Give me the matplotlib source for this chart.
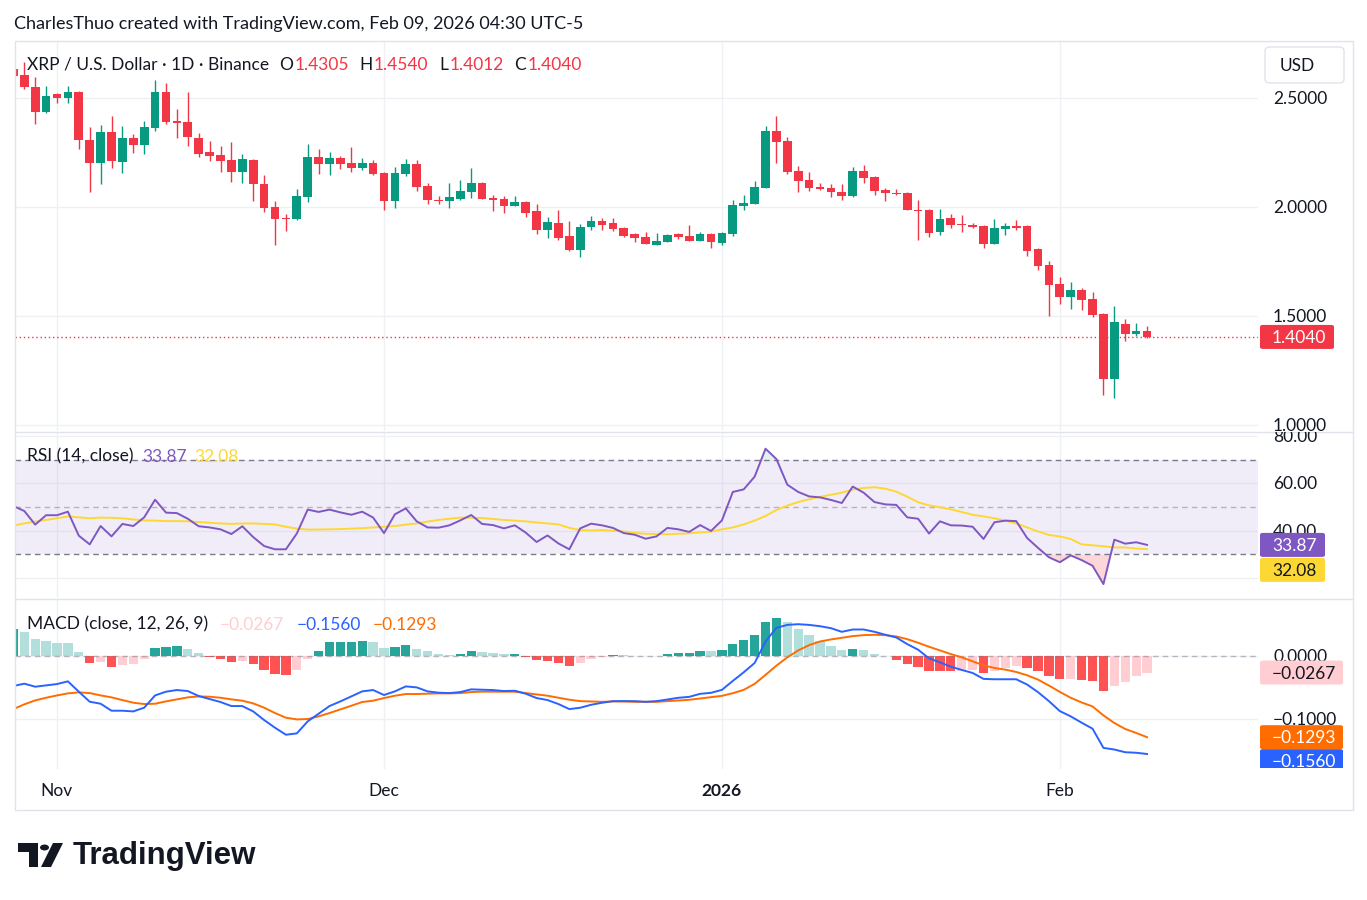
import matplotlib
matplotlib.use('Agg')
import matplotlib.pyplot as plt
import numpy as np
import pandas as pd
from matplotlib.patches import Rectangle, FancyBboxPatch, Polygon, Circle
from matplotlib.lines import Line2D

plt.rcParams['font.family'] = ['Lato', 'DejaVu Sans']

W, H = 1367, 900

# Velas diarias XRP/USD (Binance)
fechas = pd.date_range('2025-10-28', '2026-02-09', freq='D')
apertura = [2.631, 2.607, 2.550, 2.437, 2.517, 2.502, 2.528, 2.309, 2.203, 2.344,
            2.208, 2.317, 2.286, 2.362, 2.528, 2.394, 2.391, 2.317, 2.254, 2.240,
            2.217, 2.162, 2.217, 2.107, 2.002, 1.951, 1.947, 2.047, 2.231, 2.199,
            2.226, 2.203, 2.180, 2.203, 2.157, 2.029, 2.153, 2.199, 2.098, 2.034,
            2.029, 2.038, 2.070, 2.112, 2.043, 2.038, 2.006, 2.024, 1.983, 1.896,
            1.928, 1.868, 1.804, 1.910, 1.937, 1.928, 1.905, 1.878, 1.864, 1.827,
            1.841, 1.878, 1.868, 1.846, 1.878, 1.837, 1.878, 2.006, 2.015, 2.089,
            2.349, 2.303, 2.165, 2.124, 2.092, 2.087, 2.069, 2.052, 2.165, 2.138,
            2.078, 2.064, 2.064, 1.988, 1.988, 1.887, 1.951, 1.924, 1.919, 1.914,
            1.832, 1.901, 1.914, 1.914, 1.809, 1.735, 1.648, 1.589, 1.621, 1.580,
            1.511, 1.213, 1.465, 1.419, 1.4305]
maximo = [2.645, 2.665, 2.596, 2.555, 2.524, 2.555, 2.532, 2.365, 2.375, 2.416,
          2.370, 2.335, 2.394, 2.583, 2.569, 2.450, 2.528, 2.339, 2.303, 2.280,
          2.298, 2.245, 2.222, 2.148, 2.029, 1.969, 2.084, 2.289, 2.268, 2.252,
          2.235, 2.277, 2.226, 2.217, 2.162, 2.185, 2.222, 2.217, 2.112, 2.052,
          2.112, 2.125, 2.180, 2.115, 2.057, 2.052, 2.052, 2.029, 2.015, 1.956,
          1.988, 1.937, 1.924, 1.960, 1.951, 1.951, 1.910, 1.882, 1.887, 1.882,
          1.878, 1.882, 1.919, 1.887, 1.882, 1.884, 2.034, 2.055, 2.119, 2.372,
          2.417, 2.321, 2.188, 2.161, 2.110, 2.106, 2.106, 2.183, 2.193, 2.142,
          2.087, 2.083, 2.069, 2.032, 1.992, 1.992, 1.969, 1.965, 1.928, 1.919,
          1.947, 1.928, 1.942, 1.916, 1.813, 1.754, 1.680, 1.658, 1.630, 1.612,
          1.515, 1.547, 1.488, 1.469, 1.4540]
minimo = [2.595, 2.541, 2.382, 2.430, 2.479, 2.479, 2.268, 2.070, 2.107, 2.180,
          2.157, 2.249, 2.245, 2.350, 2.379, 2.318, 2.280, 2.231, 2.213, 2.162,
          2.116, 2.112, 2.029, 1.979, 1.827, 1.891, 1.940, 2.024, 2.153, 2.148,
          2.176, 2.162, 2.170, 2.148, 1.988, 1.997, 2.144, 2.075, 2.015, 2.015,
          1.997, 2.034, 2.043, 2.035, 1.983, 1.974, 2.003, 1.956, 1.878, 1.859,
          1.850, 1.800, 1.772, 1.896, 1.896, 1.891, 1.864, 1.841, 1.829, 1.825,
          1.838, 1.855, 1.843, 1.843, 1.813, 1.827, 1.869, 1.988, 2.012, 2.086,
          2.203, 2.153, 2.070, 2.075, 2.078, 2.047, 2.034, 2.047, 2.112, 2.057,
          2.029, 2.055, 1.985, 1.850, 1.864, 1.873, 1.905, 1.887, 1.905, 1.813,
          1.829, 1.873, 1.896, 1.777, 1.713, 1.502, 1.557, 1.534, 1.529, 1.497,
          1.139, 1.125, 1.387, 1.410, 1.4012]
cierre = [2.602, 2.550, 2.437, 2.509, 2.502, 2.528, 2.309, 2.203, 2.344, 2.213,
          2.317, 2.286, 2.367, 2.528, 2.391, 2.387, 2.321, 2.245, 2.235, 2.213,
          2.162, 2.222, 2.107, 1.997, 1.947, 1.945, 2.052, 2.231, 2.199, 2.226,
          2.199, 2.180, 2.203, 2.153, 2.029, 2.157, 2.199, 2.093, 2.034, 2.026,
          2.047, 2.075, 2.112, 2.038, 2.034, 2.006, 2.024, 1.974, 1.896, 1.933,
          1.859, 1.804, 1.910, 1.937, 1.919, 1.901, 1.868, 1.859, 1.832, 1.846,
          1.873, 1.864, 1.846, 1.878, 1.841, 1.882, 2.011, 2.018, 2.092, 2.349,
          2.300, 2.162, 2.121, 2.089, 2.083, 2.070, 2.052, 2.165, 2.135, 2.075,
          2.066, 2.060, 1.988, 1.983, 1.882, 1.947, 1.919, 1.919, 1.910, 1.832,
          1.905, 1.914, 1.905, 1.800, 1.731, 1.644, 1.589, 1.621, 1.575, 1.506,
          1.213, 1.474, 1.419, 1.433, 1.4040]

# RSI (14) y su media
rsi = [50.4, 48.3, 42.5, 46.5, 46.5, 48.0, 37.8, 34.1, 41.9, 37.5,
       42.8, 41.9, 45.6, 53.1, 47.6, 47.4, 45.0, 41.8, 41.3, 40.5,
       38.5, 41.8, 37.2, 33.4, 32.0, 32.0, 38.7, 48.9, 47.9, 48.9,
       47.7, 46.7, 48.0, 45.5, 38.9, 46.9, 49.4, 43.9, 41.3, 41.2,
       42.2, 44.3, 46.6, 42.8, 42.3, 40.9, 42.2, 39.1, 35.1, 37.9,
       34.5, 32.0, 40.9, 42.9, 42.2, 41.1, 38.9, 38.2, 36.5, 37.5,
       41.1, 40.5, 39.4, 42.3, 39.8, 44.3, 56.4, 57.5, 62.9, 74.8,
       70.4, 59.5, 56.4, 54.5, 54.1, 53.0, 51.7, 58.7, 56.1, 52.1,
       51.1, 50.9, 45.6, 45.0, 38.7, 43.9, 42.2, 42.1, 41.6, 36.4,
       43.5, 44.2, 44.0, 36.8, 32.6, 28.6, 26.5, 29.4, 27.4, 25.0,
       17.2, 36.1, 34.4, 35.0, 33.87]
rsi_media = [42.1, 43.0, 43.8, 44.5, 45.2, 46.0, 45.6, 45.2, 45.5, 45.4,
             45.2, 44.7, 44.3, 44.2, 44.0, 44.0, 43.9, 43.6, 43.3, 43.0,
             42.8, 43.0, 43.0, 42.8, 42.6, 41.6, 40.8, 40.4, 40.4, 40.5,
             40.6, 40.8, 41.0, 41.3, 41.6, 41.9, 42.5, 43.0, 43.8, 44.5,
             45.0, 45.5, 45.4, 45.3, 44.9, 44.5, 44.2, 43.9, 43.4, 43.0,
             42.6, 41.1, 40.2, 40.0, 40.2, 39.9, 39.6, 39.0, 38.6, 38.5,
             38.4, 38.6, 38.8, 39.2, 39.5, 40.5, 41.3, 42.6, 44.2, 46.2,
             48.7, 50.6, 52.1, 53.3, 54.3, 55.2, 56.1, 57.4, 58.1, 58.4,
             57.8, 56.5, 54.4, 52.0, 50.7, 49.9, 49.0, 47.9, 46.7, 46.0,
             45.2, 44.2, 43.0, 41.3, 39.6, 38.1, 37.5, 36.4, 34.1, 33.7,
             33.3, 32.8, 32.8, 32.3, 32.08]

# MACD (12, 26, 9)
macd = [-0.0481, -0.0444, -0.0492, -0.0471, -0.0450, -0.0407, -0.0571, -0.0730, -0.0762, -0.0873,
        -0.0873, -0.0884, -0.0825, -0.0630, -0.0571, -0.0545, -0.0561, -0.0640, -0.0688, -0.0735,
        -0.0799, -0.0799, -0.0884, -0.1021, -0.1143, -0.1254, -0.1233, -0.1042, -0.0921, -0.0799,
        -0.0725, -0.0646, -0.0566, -0.0545, -0.0624, -0.0566, -0.0487, -0.0503, -0.0566, -0.0587,
        -0.0593, -0.0577, -0.0534, -0.0540, -0.0545, -0.0561, -0.0556, -0.0603, -0.0672, -0.0704,
        -0.0767, -0.0847, -0.0826, -0.0779, -0.0747, -0.0721, -0.0721, -0.0721, -0.0732, -0.0721,
        -0.0695, -0.0668, -0.0653, -0.0605, -0.0589, -0.0542, -0.0400, -0.0263, -0.0116, 0.0226,
        0.0442, 0.0489, 0.0500, 0.0489, 0.0468, 0.0437, 0.0379, 0.0416, 0.0416, 0.0379,
        0.0332, 0.0289, 0.0184, 0.0095, -0.0042, -0.0105, -0.0174, -0.0226, -0.0274, -0.0368,
        -0.0374, -0.0374, -0.0374, -0.0458, -0.0579, -0.0721, -0.0879, -0.0963, -0.1063, -0.1158,
        -0.1463, -0.1489, -0.1532, -0.1540, -0.1560]
senal = [-0.0847, -0.0772, -0.0709, -0.0667, -0.0630, -0.0598, -0.0582, -0.0593, -0.0630, -0.0661,
         -0.0704, -0.0746, -0.0767, -0.0762, -0.0725, -0.0693, -0.0661, -0.0646, -0.0651, -0.0667,
         -0.0693, -0.0714, -0.0757, -0.0825, -0.0910, -0.0984, -0.1011, -0.1005, -0.0963, -0.0910,
         -0.0852, -0.0794, -0.0735, -0.0714, -0.0672, -0.0635, -0.0608, -0.0608, -0.0603, -0.0598,
         -0.0598, -0.0593, -0.0577, -0.0571, -0.0571, -0.0571, -0.0571, -0.0593, -0.0614, -0.0635,
         -0.0667, -0.0698, -0.0721, -0.0726, -0.0732, -0.0726, -0.0726, -0.0732, -0.0732, -0.0732,
         -0.0721, -0.0711, -0.0700, -0.0679, -0.0658, -0.0637, -0.0595, -0.0542, -0.0447, -0.0305,
         -0.0158, -0.0026, 0.0084, 0.0168, 0.0226, 0.0258, 0.0284, 0.0311, 0.0326, 0.0332,
         0.0326, 0.0305, 0.0263, 0.0205, 0.0142, 0.0084, 0.0026, -0.0026, -0.0089, -0.0153,
         -0.0195, -0.0221, -0.0258, -0.0311, -0.0379, -0.0474, -0.0574, -0.0668, -0.0742, -0.0805,
         -0.0947, -0.1068, -0.1163, -0.1226, -0.1293]
histograma = [0.0423, 0.0370, 0.0265, 0.0233, 0.0201, 0.0195, 0.0058, -0.0115, -0.0105, -0.0180,
              -0.0143, -0.0127, -0.0053, 0.0122, 0.0138, 0.0153, 0.0106, 0.0042, -0.0021, -0.0053,
              -0.0101, -0.0085, -0.0132, -0.0228, -0.0286, -0.0307, -0.0228, -0.0053, 0.0074, 0.0210,
              0.0217, 0.0225, 0.0233, 0.0217, 0.0122, 0.0138, 0.0169, 0.0106, 0.0074, 0.0026,
              0.0016, 0.0032, 0.0074, 0.0058, 0.0042, 0.0024, 0.0030, -0.0021, -0.0069, -0.0085,
              -0.0116, -0.0164, -0.0121, -0.0058, -0.0026, 0.0016, 0.0006, 0.0001, -0.0012, -0.0008,
              0.0032, 0.0045, 0.0047, 0.0082, 0.0078, 0.0095, 0.0189, 0.0253, 0.0332, 0.0537,
              0.0600, 0.0537, 0.0426, 0.0332, 0.0237, 0.0158, 0.0095, 0.0111, 0.0095, 0.0032,
              -0.0011, -0.0063, -0.0126, -0.0174, -0.0238, -0.0242, -0.0246, -0.0237, -0.0232, -0.0268,
              -0.0237, -0.0189, -0.0158, -0.0189, -0.0237, -0.0316, -0.0372, -0.0368, -0.0380, -0.0395,
              -0.0568, -0.0474, -0.0411, -0.0330, -0.0267]

etiquetas_mes = ['Nov', 'Dec', '2026', 'Feb']
ticks_precio = [1.0, 1.5, 2.0, 2.5]
ticks_rsi = [20, 40, 60, 80]
etiquetas_rsi = [40, 60, 80]   # el 20 queda tapado por la caja amarilla
ticks_macd = [-0.1, 0.0]

VERDE = '#089981'
ROJO = '#F23645'
TEXTO = '#131722'
GRID = '#EEF0F4'
BORDE = '#E0E3EB'


def fx(x):
    return x / W


def fy(y):
    return 1 - y / H


def signo(s):
    return s.replace('-', '\u2212')


fig = plt.figure(figsize=(W / 100, H / 100), dpi=100)
fig.patch.set_facecolor('white')
renderer = fig.canvas.get_renderer()

x = np.arange(len(fechas))
idx_mes = [i for i, f in enumerate(fechas) if f.day == 1]
XL = (0.147, 114.18)


def panel(top, bottom):
    ax = fig.add_axes([fx(15), fy(bottom), fx(1258 - 15), (bottom - top) / H])
    for s in ax.spines.values():
        s.set_visible(False)
    ax.set_xlim(*XL)
    ax.set_xticks(idx_mes)
    ax.tick_params(length=0, labelleft=False, labelbottom=False)
    ax.grid(True, color=GRID, lw=1)
    ax.set_axisbelow(True)
    return ax


ax_p = panel(41, 431)
ax_r = panel(432, 598)
ax_m = panel(600, 769)

# --- precio ---
o = np.array(apertura)
h = np.array(maximo)
l = np.array(minimo)
c = np.array(cierre)
col = np.where(c >= o, VERDE, ROJO)
ax_p.vlines(x, l, h, colors=col, lw=1.0, zorder=2)
ax_p.bar(x, np.maximum(np.abs(c - o), 0.004), bottom=np.minimum(o, c), width=0.8,
         color=col, lw=0, zorder=3)
ax_p.set_ylim(0.9725, 2.7615)
ax_p.set_yticks(ticks_precio)
ax_p.axhline(c[-1], color=ROJO, ls=(0, (1, 2)), lw=1, zorder=1)

# --- RSI ---
r = np.array(rsi)
rm = np.array(rsi_media)
ax_r.set_ylim(11.28, 81.91)
ax_r.set_yticks(ticks_rsi)
ax_r.axhspan(30, 70, color='#7E57C2', alpha=0.1, lw=0)
ax_r.axhline(70, color='#787B86', ls=(0, (4, 3)), lw=1)
ax_r.axhline(30, color='#787B86', ls=(0, (4, 3)), lw=1)
ax_r.axhline(50, color='#787B86', alpha=0.5, ls=(0, (4, 3)), lw=1)
ax_r.fill_between(x, r, 30, where=r < 30, interpolate=True, color='#F23645', alpha=0.2, lw=0)
ax_r.fill_between(x, r, 70, where=r > 70, interpolate=True, color='#089981', alpha=0.12, lw=0)
ax_r.plot(x, rm, color='#FDD835', lw=1.4)
ax_r.plot(x, r, color='#7E57C2', lw=1.4)

# --- MACD ---
hi = np.array(histograma)
prev = np.r_[-np.inf, hi[:-1]]
col_h = []
for v, p in zip(hi, prev):
    if v >= 0:
        col_h.append('#26A69A' if p < v else '#B2DFDB')
    else:
        col_h.append('#FFCDD2' if p < v else '#FF5252')
ax_m.set_ylim(-0.1798, 0.0884)
ax_m.set_yticks(ticks_macd)
ax_m.bar(x, hi, width=0.85, color=col_h, lw=0, zorder=2)
ax_m.axhline(0, color='#787B86', alpha=0.5, ls=(0, (4, 3)), lw=1, zorder=2)
ax_m.plot(x, senal, color='#FF6D00', lw=1.4, zorder=3)
ax_m.plot(x, macd, color='#2962FF', lw=1.4, zorder=3)
ax_m.set_xticks(idx_mes, labels=etiquetas_mes)
ax_m.tick_params(axis='x', labelbottom=True, pad=10, labelsize=12.5, labelcolor=TEXTO)
for lbl in ax_m.get_xticklabels():
    if lbl.get_text() == '2026':
        lbl.set_fontweight('bold')

# --- marco y separadores ---
fig.add_artist(Rectangle((fx(14.5), fy(809.5)), fx(1352.5 - 14.5), (809.5 - 40.5) / H,
                         transform=fig.transFigure, fill=False, ec=BORDE, lw=1))
for yy in (431.5, 599):
    fig.add_artist(Line2D([fx(15), fx(1352)], [fy(yy), fy(yy)], transform=fig.transFigure,
                          color=BORDE, lw=1))


def recorte(top, bottom):
    return Rectangle((fx(15), fy(bottom)), fx(1352 - 15), (bottom - top) / H,
                     transform=fig.transFigure)


clip_p = recorte(41, 431)
clip_r = recorte(432, 598)
clip_m = recorte(600, 768)


def ypix(ax, v):
    return H - ax.transData.transform((0, v))[1]


def etiqueta(ax, v, texto, clip):
    t = fig.text(fx(1273), fy(ypix(ax, v) + 1), texto, color=TEXTO, fontsize=12.5,
                 va='center', zorder=3)
    t.set_clip_path(clip)


for v in ticks_precio:
    etiqueta(ax_p, v, f'{v:.4f}', clip_p)
for v in etiquetas_rsi:
    etiqueta(ax_r, v, f'{v:.2f}', clip_r)
for v in ticks_macd:
    etiqueta(ax_m, v, signo(f'{v:.4f}'), clip_m)


def caja(x1, yc, texto, fc, tc, clip, hgt=24):
    p = FancyBboxPatch((fx(1260), fy(yc + hgt / 2)), fx(x1 - 1260), hgt / H,
                       boxstyle='round,pad=0,rounding_size=0.002', transform=fig.transFigure,
                       fc=fc, ec='none', zorder=4)
    fig.add_artist(p)
    p.set_clip_path(clip)
    t = fig.text(fx(1272), fy(yc + 1), texto, color=tc, fontsize=12.5, va='center', zorder=5)
    t.set_clip_path(clip)


caja(1334, ypix(ax_p, c[-1]), f'{c[-1]:.4f}', ROJO, 'white', clip_p)
y_rsi = ypix(ax_r, r[-1])
caja(1325, y_rsi, f'{r[-1]:.2f}', '#7E57C2', 'white', clip_r)
caja(1325, y_rsi + 25, f'{rm[-1]:.2f}', '#FDD835', TEXTO, clip_r)
caja(1343, ypix(ax_m, hi[-1]), signo(f'{hi[-1]:.4f}'), '#FFCDD2', TEXTO, clip_m)
y_sen = ypix(ax_m, senal[-1])
caja(1343, y_sen, signo(f'{senal[-1]:.4f}'), '#FF6D00', 'white', clip_m)
caja(1343, y_sen + 24, signo(f'{macd[-1]:.4f}'), '#2962FF', 'white', clip_m)

# caja USD
fig.add_artist(FancyBboxPatch((fx(1265), fy(83)), fx(1344 - 1265), 36 / H,
                              boxstyle='round,pad=0,rounding_size=0.004', transform=fig.transFigure,
                              fc='white', ec=BORDE, lw=1, zorder=4))
fig.text(fx(1280), fy(66), 'USD', color=TEXTO, fontsize=12.5, va='center', zorder=5)


# --- leyendas ---
def leyenda(x0, y, partes, size=12.5):
    xx = x0
    for s, color, gap in partes:
        t = fig.text(fx(xx), fy(y + 1.5), s, color=color, fontsize=size, va='center', zorder=6)
        bb = t.get_window_extent(renderer=renderer)
        xx = bb.x1 + gap


leyenda(27, 63, [('XRP / U.S. Dollar · 1D · Binance', TEXTO, 10),
                 ('O', TEXTO, 1), (f'{o[-1]:.4f}', ROJO, 11),
                 ('H', TEXTO, 1), (f'{h[-1]:.4f}', ROJO, 11),
                 ('L', TEXTO, 1), (f'{l[-1]:.4f}', ROJO, 11),
                 ('C', TEXTO, 1), (f'{c[-1]:.4f}', ROJO, 0)])
leyenda(27, 455, [('RSI (14, close)', TEXTO, 9),
                  (f'{r[-1]:.2f}', '#7E57C2', 7),
                  (f'{rm[-1]:.2f}', '#FDD835', 0)])
leyenda(27, 623, [('MACD (close, 12, 26, 9)', TEXTO, 12),
                  (signo(f'{hi[-1]:.4f}'), '#FFCDD2', 12),
                  (signo(f'{macd[-1]:.4f}'), '#2962FF', 12),
                  (signo(f'{senal[-1]:.4f}'), '#FF6D00', 0)])

# cabecera
fig.text(fx(14), fy(23.5), 'CharlesThuo created with TradingView.com, Feb 09, 2026 04:30 UTC-5',
         color=TEXTO, fontsize=13, va='center')

# logo TradingView
def poly(pts, **kw):
    fig.add_artist(Polygon([(fx(a), fy(b)) for a, b in pts], closed=True,
                           transform=fig.transFigure, **kw))


poly([(18, 843), (38, 843), (38, 867), (29, 867), (29, 852), (18, 852)], fc=TEXTO, ec='none')
fig.add_artist(Circle((fx(44.5), fy(847.5)), 4.5 / W, transform=fig.transFigure, fc=TEXTO, ec='none'))
poly([(53, 843), (63, 843), (51, 867), (41, 867)], fc=TEXTO, ec='none')
fig.text(fx(73), fy(856), 'TradingView', color=TEXTO, fontsize=22.5, fontweight='bold',
         family=['Liberation Sans', 'DejaVu Sans'], va='center')

fig.savefig('out.png', dpi=100, facecolor='white')
